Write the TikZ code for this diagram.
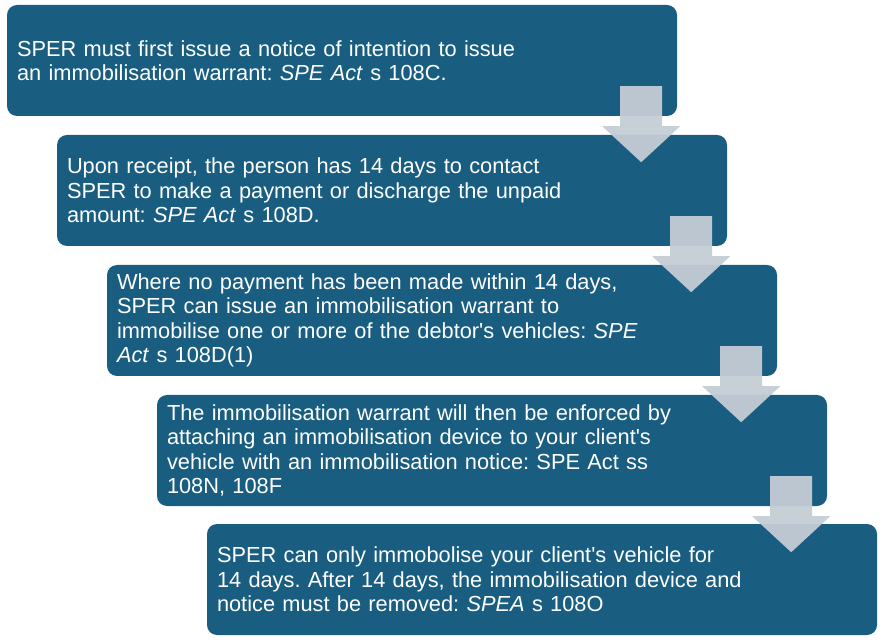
\documentclass[tikz,border=0pt]{standalone}
\usepackage{fontspec}
\setmainfont{Liberation Sans}
\usetikzlibrary{calc}
\definecolor{boxblue}{RGB}{25,94,128}
\definecolor{arrowgray}{RGB}{196,204,213}
\frenchspacing
\begin{document}
\begin{tikzpicture}[x=1pt,y=-1pt,
  stepbox/.style={fill=boxblue, rounded corners=10pt, text=white,
    text width=650pt, inner xsep=10pt, inner ysep=0pt, minimum height=111pt,
    align=left, font=\fontsize{21.8}{24.4}\selectfont\frenchspacing},
  downarrow/.style={fill=arrowgray, draw=none, fill opacity=0.95}]
\useasboundingbox (0,0) rectangle (884,644);
\node[stepbox] (b1) at (342,60.5) {SPER must first issue a notice of intention to issue\\an immobilisation warrant: \textit{SPE Act} s 108C.};
\node[stepbox] (b2) at (392,190.5) {Upon receipt, the person has 14 days to contact\\SPER to make a payment or discharge the unpaid\\amount: \textit{SPE Act} s 108D.};
\node[stepbox] (b3) at (442,320.5) {Where no payment has been made within 14 days,\\SPER can issue an immobilisation warrant to\\immobilise one or more of the debtor\textquotesingle s vehicles: \textit{SPE}\\\textit{Act} s 108D(1)};
\node[stepbox] (b4) at (492,450.5) {The immobilisation warrant will then be enforced by\\attaching an immobilisation device to your client\textquotesingle s\\vehicle with an immobilisation notice: SPE Act ss\\108N, 108F};
\node[stepbox] (b5) at (542,579.5) {SPER can only immobolise your client\textquotesingle s vehicle for\\14 days. After 14 days, the immobilisation device and\\notice must be removed: \textit{SPEA} s 108O};
\foreach \b in {b1,b2,b3,b4}{
  \fill[downarrow] ($(\b.south east)+(-57,-30)$) -- ($(\b.south east)+(-15,-30)$)
    -- ($(\b.south east)+(-15,10)$) -- ($(\b.south east)+(3,10)$)
    -- ($(\b.south east)+(-36,46)$) -- ($(\b.south east)+(-75,10)$)
    -- ($(\b.south east)+(-57,10)$) -- cycle;
}
\end{tikzpicture}
\end{document}
